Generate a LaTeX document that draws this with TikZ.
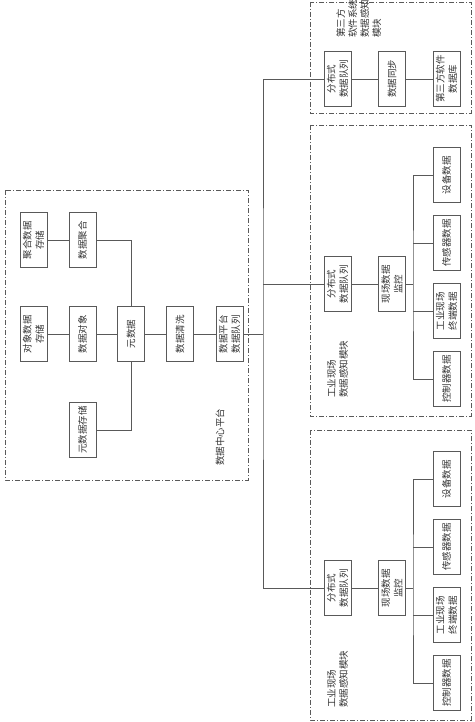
\documentclass[tikz,border=0pt]{standalone}
\usepackage{fontspec}
\newfontfamily\cjk{Noto Sans CJK SC}
\usepackage{xcolor}
\definecolor{linegray}{gray}{0.35}
\definecolor{textgray}{gray}{0.2}

\begin{document}
\begin{tikzpicture}[x=1pt,y=-1pt,line width=0.7pt,draw=linegray,
  box/.style={rectangle,draw=linegray,rotate=90,minimum width=55pt,minimum height=27pt,inner sep=1pt,align=center,text=textgray,font=\cjk\fontsize{9.5}{12.5}\selectfont},
  frame/.style={draw=linegray,line width=0.6pt,dash pattern=on 5pt off 2pt on 1pt off 2pt},
  tag/.style={rotate=90,align=left,inner sep=0pt,text=textgray,font=\cjk\fontsize{9.5}{12}\selectfont}]
\useasboundingbox (0,0) rectangle (474,722);

\draw [frame] (5,190) rectangle (248,480);
\draw [frame] (310,2) rectangle (471,113);
\draw [frame] (310,125) rectangle (471,416);
\draw [frame] (310,430) rectangle (471,720);

\node [box,at={(33.5,240)}] (aggst) {聚合数据\\存储};
\node [box,at={(82.5,240)}] (agg) {数据聚合};
\node [box,at={(33.5,334)}] (objst) {对象数据\\存储};
\node [box,at={(82.5,334)}] (obj) {数据对象};
\node [box,at={(131,334)}] (meta) {元数据};
\node [box,at={(180,334)}] (clean) {数据清洗};
\node [box,at={(229.5,334)}] (platq) {数据平台\\数据队列};
\node [box,at={(82.5,430)}] (metast) {元数据存储};
\node [tag,anchor=center,at={(220,437)}] (dclabel) {数据中心平台};

\node [box,at={(337.5,79)}] (dq0) {分布式\\数据队列};
\node [box,at={(392,79)}] (sync) {数据同步};
\node [box,at={(446.5,79)}] (tpdb) {第三方软件\\数据库};
\node [tag,anchor=north west,at={(336,38)}] (tplabel) {第三方\\软件系统\\数据感知\\模块};

\node [box,at={(337.5,284)}] (dq1) {分布式\\数据队列};
\node [box,at={(392,284)}] (mon1) {现场数据\\监控};
\node [box,at={(446.5,175)}] (dev1) {设备数据};
\node [box,at={(446.5,243)}] (sen1) {传感器数据};
\node [box,at={(446.5,311)}] (term1) {工业现场\\终端数据};
\node [box,at={(446.5,379)}] (ctl1) {控制器数据};
\node [tag,anchor=north west,at={(327,398)}] (m1label) {工业现场\\数据感知模块};

\node [box,at={(337.5,588)}] (dq2) {分布式\\数据队列};
\node [box,at={(392,588)}] (mon2) {现场数据\\监控};
\node [box,at={(446.5,479)}] (dev2) {设备数据};
\node [box,at={(446.5,547)}] (sen2) {传感器数据};
\node [box,at={(446.5,615)}] (term2) {工业现场\\终端数据};
\node [box,at={(446.5,683)}] (ctl2) {控制器数据};
\node [tag,anchor=north west,at={(327,708)}] (m2label) {工业现场\\数据感知模块};

\coordinate (trunk) at (263,334);
\coordinate (bus1) at (413,284);
\coordinate (bus2) at (413,588);

\draw (aggst) -- (agg);
\draw (agg.south) -| (meta.east);
\draw (objst) -- (obj);
\draw (obj) -- (meta);
\draw (meta) -- (clean);
\draw (clean) -- (platq);
\draw (meta.west) |- (metast.south);

\draw (platq) -- (trunk);
\draw (dq0) -| (trunk) |- (dq2);
\draw (dq1) -- (dq1 -| trunk);
\draw (dq0) -- (sync);
\draw (sync) -- (tpdb);

\draw (dq1) -- (mon1);
\draw (mon1) -- (bus1);
\draw (dev1) -| (bus1) |- (ctl1);
\draw (sen1) -- (sen1 -| bus1);
\draw (term1) -- (term1 -| bus1);

\draw (dq2) -- (mon2);
\draw (mon2) -- (bus2);
\draw (dev2) -| (bus2) |- (ctl2);
\draw (sen2) -- (sen2 -| bus2);
\draw (term2) -- (term2 -| bus2);
\end{tikzpicture}
\end{document}
